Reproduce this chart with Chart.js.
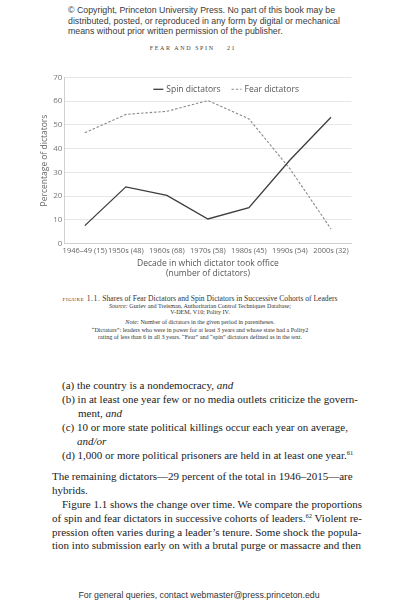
<!DOCTYPE html>
<html>
<head>
<meta charset="utf-8">
<script src="https://cdn.jsdelivr.net/npm/chart.js@4/dist/chart.umd.min.js"></script>
<style>
  html, body { margin: 0; padding: 0; background: #fff; }
  #page { position: relative; width: 400px; height: 610px; overflow: hidden; }
  .abs { position: absolute; white-space: nowrap; }
  .cr { font-family: "Liberation Sans", Arial, sans-serif; font-size: 8.8px; color: #3a3a3a; left: 68px; }
  .run { font-family: "Liberation Serif", serif; font-size: 6px; letter-spacing: 1.6px; color: #444; left: 0; width: 386px; text-align: center; }
  .cap { font-family: "Liberation Serif", serif; color: #333; left: 0; width: 400px; text-align: center; }
  .sc { font-variant: small-caps; letter-spacing: 0.6px; }
  .body { font-family: "Liberation Serif", serif; font-size: 11px; color: #222; line-height: 14px; }
  .just { text-align: justify; text-align-last: justify; }
  sup { font-size: 6.5px; vertical-align: 4px; line-height: 0; }
  #chartBox { position: absolute; left: 20px; top: 65px; width: 345px; height: 220px; }
  .foot { font-family: "Liberation Sans", Arial, sans-serif; font-size: 8.8px; color: #333; left: 0; width: 398px; text-align: center; }
</style>
</head>
<body>
<div id="page">
  <div class="abs cr" style="top:5px">© Copyright, Princeton University Press. No part of this book may be</div>
  <div class="abs cr" style="top:15.5px">distributed, posted, or reproduced in any form by digital or mechanical</div>
  <div class="abs cr" style="top:26px">means without prior written permission of the publisher.</div>
  <div class="abs run" style="top:45px">FEAR AND SPIN&nbsp;&nbsp;&nbsp;&nbsp;21</div>

  <div id="chartBox"><canvas id="chart"></canvas></div>

  <div class="abs cap" style="top:294px;font-size:7.6px"><span class="sc">figure 1.1.</span> Shares of Fear Dictators and Spin Dictators in Successive Cohorts of Leaders</div>
  <div class="abs cap" style="top:302.5px;font-size:6.1px"><i>Source:</i> Guriev and Treisman, Authoritarian Control Techniques Database;</div>
  <div class="abs cap" style="top:309px;font-size:6.1px">V-DEM, V10; Polity IV.</div>
  <div class="abs cap" style="top:318.5px;font-size:6.1px"><i>Note:</i> Number of dictators in the given period in parentheses.</div>
  <div class="abs cap" style="top:326.5px;font-size:6.1px">“Dictators”: leaders who were in power for at least 3 years and whose state had a Polity2</div>
  <div class="abs cap" style="top:334px;font-size:6.1px">rating of less than 6 in all 3 years. “Fear” and “spin” dictators defined as in the text.</div>

  <div class="abs body" style="top:378px;left:62px">(a) the country is a nondemocracy, <i>and</i></div>
  <div class="abs body just" style="top:392px;left:62px;width:278px">(b) in at least one year few or no media outlets criticize the govern-</div>
  <div class="abs body" style="top:406px;left:78px">ment, <i>and</i></div>
  <div class="abs body" style="top:420px;left:62px">(c) 10 or more state political killings occur each year on average,</div>
  <div class="abs body" style="top:434px;left:77px"><i>and/or</i></div>
  <div class="abs body" style="top:448px;left:62px">(d) 1,000 or more political prisoners are held in at least one year.<sup>61</sup></div>

  <div class="abs body just" style="top:469px;left:52px;width:289px">The remaining dictators—29 percent of the total in 1946–2015—are</div>
  <div class="abs body" style="top:483px;left:52px">hybrids.</div>
  <div class="abs body just" style="top:497px;left:62px;width:279px">Figure 1.1 shows the change over time. We compare the proportions</div>
  <div class="abs body just" style="top:511px;left:52px;width:289px">of spin and fear dictators in successive cohorts of leaders.<sup>62</sup> Violent re-</div>
  <div class="abs body just" style="top:525px;left:52px;width:289px">pression often varies during a leader’s tenure. Some shock the popula-</div>
  <div class="abs body just" style="top:538px;left:52px;width:289px">tion into submission early on with a brutal purge or massacre and then</div>

  <div class="abs foot" style="top:590px">For general queries, contact webmaster@press.princeton.edu</div>
</div>

<script>
// Share of each cohort classed as spin or fear dictators (percent).
const decades = ['1946–49 (15)', '1950s (48)', '1960s (68)', '1970s (58)', '1980s (45)', '1990s (54)', '2000s (32)'];
const spinShare = [7.6, 23.9, 20.3, 10.4, 15.2, 35.2, 53.2];
const fearShare = [46.7, 54.4, 55.7, 60.2, 52.5, 31.5, 6.2];
const yMin = 0;
const yMax = 70;
const yStep = 10;

const chartFont = '"Open Sans", "Noto Sans", sans-serif';

// Legend sits inside the plot, near the top, as in the book figure.
const innerLegend = {
    id: 'innerLegend',
    afterDatasetsDraw(chart) {
        const ctx = chart.ctx;
        const area = chart.chartArea;
        let x = area.left + 89;
        const y = area.top + 12;
        ctx.save();
        ctx.font = '8.5px ' + chartFont;
        ctx.textBaseline = 'middle';
        chart.data.datasets.forEach(ds => {
            ctx.strokeStyle = ds.borderColor;
            ctx.lineWidth = ds.borderWidth;
            ctx.setLineDash(ds.borderDash || []);
            ctx.beginPath();
            ctx.moveTo(x, y);
            ctx.lineTo(x + 10, y);
            ctx.stroke();
            ctx.setLineDash([]);
            ctx.fillStyle = '#555';
            ctx.fillText(ds.label, x + 13, y);
            x += 13 + ctx.measureText(ds.label).width + 11;
        });
        ctx.restore();
    }
};

new Chart(document.getElementById('chart'), {
    type: 'line',
    data: {
        labels: decades,
        datasets: [{
            label: 'Spin dictators',
            data: spinShare,
            borderColor: '#3d3d3d',
            borderWidth: 1.3,
            pointRadius: 0,
            tension: 0
        }, {
            label: 'Fear dictators',
            data: fearShare,
            borderColor: '#8a8a8a',
            borderWidth: 1.1,
            borderDash: [2.5, 1.8],
            pointRadius: 0,
            tension: 0
        }]
    },
    options: {
        animation: false,
        maintainAspectRatio: false,
        layout: { padding: { left: 0, right: 13.5, top: 12.3, bottom: 0 } },
        plugins: {
            tooltip: { enabled: false },
            legend: { display: false }
        },
        scales: {
            x: {
                offset: true,
                afterFit(scale) { scale.height = 41.3; },
                grid: { display: false, drawTicks: false },
                border: { display: true, color: '#d0d0d0' },
                ticks: {
                    color: '#666',
                    font: { family: chartFont, size: 7.5 },
                    autoSkip: false,
                    maxRotation: 0,
                    padding: 3
                },
                title: {
                    display: true,
                    text: ['Decade in which dictator took office', '(number of dictators)'],
                    color: '#555',
                    font: { family: chartFont, size: 8.5, lineHeight: 1.1 },
                    padding: { top: 0, bottom: 7 }
                }
            },
            y: {
                min: yMin,
                max: yMax,
                afterFit(scale) { scale.width = 44.3; },
                ticks: {
                    stepSize: yStep,
                    color: '#777',
                    font: { family: chartFont, size: 8 },
                    padding: 2
                },
                grid: { color: '#e6e6e6', drawTicks: false },
                border: { display: true, color: '#d0d0d0' },
                title: {
                    display: true,
                    text: 'Percentage of dictators',
                    color: '#666',
                    font: { family: chartFont, size: 8.5 },
                    padding: { top: 19, bottom: 0 }
                }
            }
        }
    },
    plugins: [innerLegend]
});
</script>
</body>
</html>
